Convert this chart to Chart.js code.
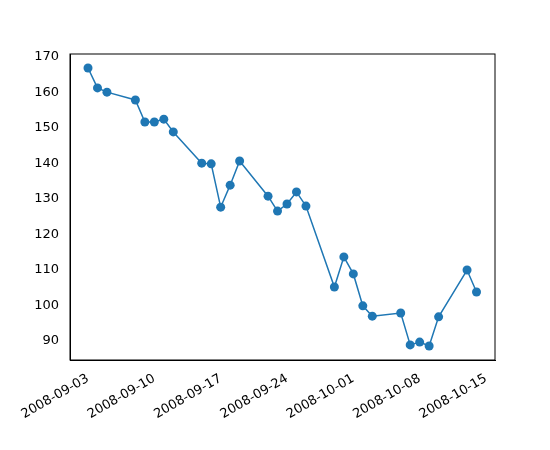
<!DOCTYPE html>
<html>
<head>
<meta charset="utf-8">
<script src="https://cdn.jsdelivr.net/npm/chart.js@4/dist/chart.umd.min.js"></script>
<style>
  body { margin: 0; background: #fff; }
  canvas { display: block; }
</style>
</head>
<body>
<canvas id="chart" width="550" height="450"></canvas>
<script>
const dates = [
  "2008-09-03", "2008-09-04", "2008-09-05", "2008-09-08", "2008-09-09",
  "2008-09-10", "2008-09-11", "2008-09-12", "2008-09-15", "2008-09-16",
  "2008-09-17", "2008-09-18", "2008-09-19", "2008-09-22", "2008-09-23",
  "2008-09-24", "2008-09-25", "2008-09-26", "2008-09-29", "2008-09-30",
  "2008-10-01", "2008-10-02", "2008-10-03", "2008-10-06", "2008-10-07",
  "2008-10-08", "2008-10-09", "2008-10-10", "2008-10-13", "2008-10-14",
];
const prices = [
  166.9, 161.3, 160.1, 157.9, 151.7, 151.7, 152.5, 148.9, 140.1, 139.9,
  127.7, 133.9, 140.7, 130.8, 126.6, 128.6, 132.0, 128.0, 105.2, 113.7,
  108.9, 99.9, 97.0, 97.9, 88.9, 89.7, 88.6, 96.8, 110.0, 103.8,
];
const yTicks = [90, 100, 110, 120, 130, 140, 150, 160, 170];

const DAY = 86400000;
const start = Date.parse(dates[0]);
const toDay = (s) => (Date.parse(s) - start) / DAY;
const dayLabel = (d) => new Date(start + d * DAY).toISOString().slice(0, 10);

const points = dates.map((d, i) => ({ x: toDay(d), y: prices[i] }));
const blue = "#1f77b4";
const font = { family: "DejaVu Sans", size: 13 };

new Chart(document.getElementById("chart").getContext("2d"), {
  type: "line",
  data: {
    datasets: [{
      data: points,
      borderColor: blue,
      backgroundColor: blue,
      borderWidth: 1.5,
      pointRadius: 4.5,
      pointBackgroundColor: blue,
      pointBorderWidth: 0,
      tension: 0,
    }],
  },
  options: {
    responsive: false,
    animation: false,
    layout: { padding: { top: 54, right: 55, left: 0, bottom: 0 } },
    plugins: { legend: { display: false }, tooltip: { enabled: false } },
    scales: {
      x: {
        type: "linear",
        min: -1.9,
        max: 42.95,
        afterBuildTicks: (axis) => {
          axis.ticks = [0, 7, 14, 21, 28, 35, 42].map((v) => ({ value: v }));
        },
        afterFit: (axis) => { axis.height = 90; },
        grid: { display: false, drawTicks: true },
        border: { color: "#000" },
        ticks: {
          color: "#000",
          font: font,
          minRotation: 30,
          maxRotation: 30,
          callback: (v) => dayLabel(v),
        },
      },
      y: {
        min: 84.65,
        max: 170.85,
        afterBuildTicks: (axis) => {
          axis.ticks = yTicks.map((v) => ({ value: v }));
        },
        afterFit: (axis) => { axis.width = 70; },
        grid: { display: false },
        border: { color: "#000" },
        ticks: { color: "#000", font: font },
      },
    },
  },
  plugins: [{
    id: "frame",
    afterDraw(chart) {
      const { ctx, chartArea: a } = chart;
      ctx.save();
      ctx.strokeStyle = "#000";
      ctx.lineWidth = 1;
      ctx.strokeRect(a.left, a.top, a.right - a.left, a.bottom - a.top);
      ctx.restore();
    },
  }],
});
</script>
</body>
</html>
